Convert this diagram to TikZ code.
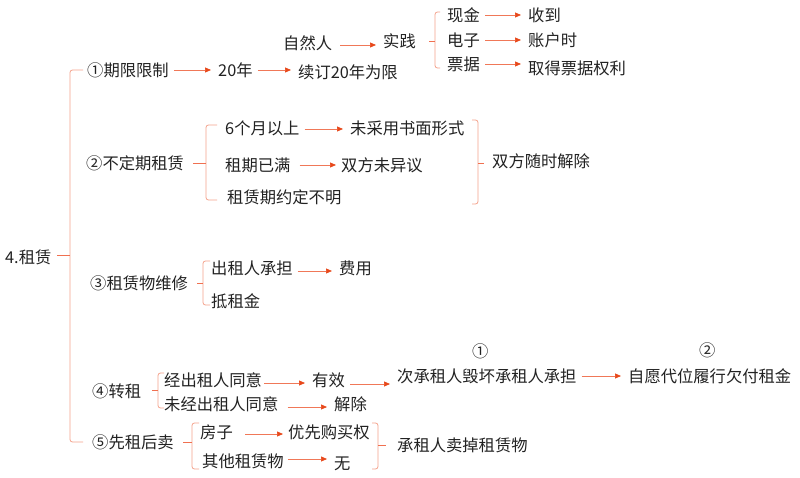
\documentclass[tikz,border=0pt]{standalone}
\usepackage{fontspec}
\setmainfont{Noto Sans CJK SC}
\usetikzlibrary{arrows.meta}
\definecolor{brkc}{HTML}{F4A28C}
\definecolor{midc}{HTML}{F07050}
\definecolor{arrc}{HTML}{F07858}
\definecolor{tipc}{HTML}{E8481A}
\definecolor{txt}{HTML}{222222}
\begin{document}
\begin{tikzpicture}[x=1pt,y=-1pt,
 lbl/.style={anchor=west,inner sep=0pt,text=txt,font=\fontsize{16.3}{17}\selectfont},
 arr/.style={draw=arrc,line width=0.7pt,-{Triangle[length=6pt,width=5pt,fill=tipc,color=tipc]},shorten <=5pt,shorten >=7pt},
 brk/.style={draw=brkc,line width=0.8pt,rounded corners=2.5pt},
 brkm/.style={draw=midc,line width=0.8pt}]
\useasboundingbox[fill=white] (0,0) rectangle (800,478);

% root and main bracket
\node[lbl] (root) at (5,257) {4.租赁};
\draw[brk] (83,70) -- (70,70) -- (70,442) -- (83,442);
\draw[brkm] (57,255) -- (70,255);

% section 1
\node[lbl] (s1) at (87,70) {①期限限制};
\node[lbl] (y20) at (218,70) {20年};
\node[lbl] (xd) at (298,72) {续订20年为限};
\node[lbl] (zrr) at (283,43) {自然人};
\node[lbl] (sj) at (383,41) {实践};
\node[lbl] (xj) at (447,15) {现金};
\node[lbl] (sd) at (528,15) {收到};
\node[lbl] (dz) at (447,40) {电子};
\node[lbl] (zhs) at (528,40) {账户时};
\node[lbl] (pj) at (447,64) {票据};
\node[lbl] (qd) at (528,68) {取得票据权利};
\draw[arr] (s1.east) -- (s1.east -| y20.west);
\draw[arr] (y20.east) -- (y20.east -| xd.west);
\draw[arr,shorten <=8pt] ([yshift=-2pt]zrr.east) -- ([yshift=-2pt]zrr.east -| sj.west);
\draw[brk] (440,12) -- (435,12) -- (435,68) -- (440,68);
\draw[brkm] (429,41) -- (435,41);
\draw[arr] (xj.east) -- (xj.east -| sd.west);
\draw[arr] (dz.east) -- (dz.east -| zhs.west);
\draw[arr] (pj.east) -- (pj.east -| qd.west);

% section 2
\node[lbl] (s2) at (86,163) {②不定期租赁};
\draw[brk] (217,125) -- (206,125) -- (206,200) -- (217,200);
\draw[brkm] (193,163) -- (206,163);
\node[lbl] (m6) at (225,128) {6个月以上};
\node[lbl] (wcy) at (350,128) {未采用书面形式};
\node[lbl] (zqym) at (225,165) {租期已满};
\node[lbl] (sfw) at (341,165) {双方未异议};
\node[lbl] (zlq) at (227,197) {租赁期约定不明};
\draw[arr] ([yshift=-1pt]m6.east) -- ([yshift=-1pt]m6.east -| wcy.west);
\draw[arr,shorten <=9pt,shorten >=5pt] (zqym.east) -- (zqym.east -| sfw.west);
\draw[brk] (472,120) -- (478,120) -- (478,204) -- (472,204);
\draw[brkm] (478,163) -- (484,163);
\node[lbl] (sfsj) at (492,161) {双方随时解除};

% section 3
\node[lbl] (s3) at (90,283) {③租赁物维修};
\draw[brk] (210,261) -- (203,261) -- (203,305) -- (210,305);
\draw[brkm] (197,283) -- (203,283);
\node[lbl] (czr) at (211,268) {出租人承担};
\node[lbl] (fy) at (339,268) {费用};
\node[lbl] (dzj) at (211,301) {抵租金};
\draw[arr] ([yshift=-3pt]czr.east) -- ([yshift=-3pt]czr.east -| fy.west);

% section 4
\node[lbl] (s4) at (92,391) {④转租};
\draw[brk] (164,373) -- (158,373) -- (158,408) -- (164,408);
\draw[brkm] (152,390) -- (158,390);
\node[lbl] (jcz) at (164,380) {经出租人同意};
\node[lbl] (yx) at (312,380) {有效};
\node[lbl] (cczr) at (397,376) {次承租人毁坏承租人承担};
\node[lbl] (n1) at (472,351) {①};
\node[lbl] (zy) at (628,376) {自愿代位履行欠付租金};
\node[lbl] (n2) at (699,350) {②};
\node[lbl] (wjcz) at (164,404) {未经出租人同意};
\node[lbl] (jc) at (334,404) {解除};
\draw[arr,shorten <=2pt] ([yshift=-3pt]jcz.east) -- ([yshift=-3pt]jcz.east -| yx.west);
\draw[arr] ([yshift=-4pt]yx.east) -- ([yshift=-4pt]yx.east -| cczr.west);
\draw[arr] (cczr.east) -- (cczr.east -| zy.west);
\draw[arr,shorten <=9pt] ([yshift=-3pt]wjcz.east) -- ([yshift=-3pt]wjcz.east -| jc.west);

% section 5
\node[lbl] (s5) at (92,442) {⑤先租后卖};
\draw[brk] (199,423) -- (192,423) -- (192,469) -- (199,469);
\draw[brkm] (183,442) -- (192,442);
\node[lbl] (fz) at (200,432) {房子};
\node[lbl] (yxg) at (288,432) {优先购买权};
\node[lbl] (qt) at (202,461) {其他租赁物};
\node[lbl] (wu) at (334,464) {无};
\draw[arr,shorten <=12pt,shorten >=5pt] ([yshift=-2pt]fz.east) -- ([yshift=-2pt]fz.east -| yxg.west);
\draw[arr,shorten <=4pt] ([yshift=2pt]qt.east) -- ([yshift=2pt]qt.east -| wu.west);
\draw[brk] (372,423) -- (378,423) -- (378,469) -- (372,469);
\draw[brkm] (378,445) -- (386,445);
\node[lbl] (czrm) at (397,445) {承租人卖掉租赁物};
\end{tikzpicture}
\end{document}
